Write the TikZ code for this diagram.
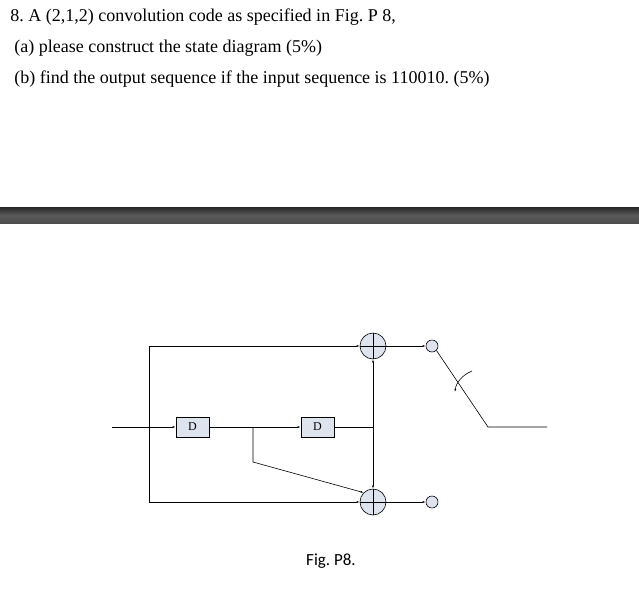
\documentclass[tikz,border=0pt]{standalone}
\usepackage{fontspec}
\setmainfont{Liberation Serif}
\newfontfamily\calib{Carlito}
\usetikzlibrary{arrows.meta}
\definecolor{fillb}{HTML}{DDE4EE}
\frenchspacing
\begin{document}
\begin{tikzpicture}[x=1pt,y=-1pt,
  txt/.style={anchor=west,inner sep=0pt,font=\fontsize{18}{21}\selectfont},
  dbox/.style={draw,fill=fillb,minimum width=33pt,minimum height=20pt,inner sep=0pt,font=\fontsize{12}{14}\selectfont},
  adder/.style={draw,fill=fillb,circle,minimum size=26pt,inner sep=0pt},
  outc/.style={draw,fill=fillb,circle,minimum size=12pt,inner sep=0pt},
  ar/.style={-{Latex[length=3pt,width=2pt]}},
  line width=0.6pt]
\useasboundingbox (0,0) rectangle (639,595);
\node[txt] (t1) at (10,17) {8. A (2,1,2) convolution code as specified in Fig. P 8,};
\node[txt] (t2) at (14,48) {(a) please construct the state diagram (5\%)};
\node[txt] (t3) at (14,79) {(b) find the output sequence if the input sequence is 110010. (5\%)};
\shade[top color=black!85,bottom color=black!70,middle color=black!65] (0,207) rectangle (639,223);
\node[dbox] (d1) at (192.5,427) {D};
\node[dbox] (d2) at (317.5,427) {D};
\node[adder] (a1) at (373,346) {};
\node[adder] (a2) at (373,502) {};
\draw (a1.north)--(a1.south) (a1.west)--(a1.east);
\draw (a2.north)--(a2.south) (a2.west)--(a2.east);
\node[outc] (o1) at (432,346) {};
\node[outc] (o2) at (432,502) {};
\coordinate (in) at (112,427);
\coordinate (j0) at (149,427);
\coordinate (j1) at (253,427);
\coordinate (j2) at (373,427);
\coordinate (jd) at (253,462);
\coordinate (sw) at (488,427);
\coordinate (se) at (547,427);
\draw (in)--(j0);
\draw[ar] (j0)--(d1.west);
\draw (d1.east)--(j1);
\draw[ar] (j1)--(d2.west);
\draw (d2.east)--(j2);
\draw[ar] (j0)--(149,346)--(a1.west);
\draw[ar] (j0)--(149,502)--(a2.west);
\draw[ar] (j2)--(a1.south);
\draw[ar] (j2)--(a2.north);
\draw[ar] (j1)--(jd)--(a2.north west);
\draw[ar] (a1.east)--(o1.west);
\draw[ar] (a2.east)--(o2.west);
\draw (o1.south east)--(sw)--(se);
\draw[ar] (472,371) .. controls (462,375) and (456,383) .. (455,392);
\node[inner sep=0pt,font=\calib\fontsize{17}{20}\selectfont] (fig) at (331,561) {Fig. P8.};
\end{tikzpicture}
\end{document}
